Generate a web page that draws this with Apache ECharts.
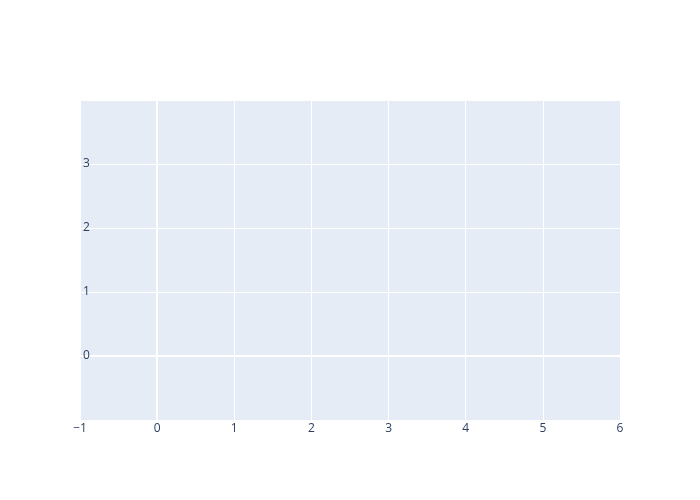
<!DOCTYPE html>
<html>
<head>
<meta charset="utf-8">
<script src="https://cdn.jsdelivr.net/npm/echarts@6/dist/echarts.min.js"></script>
<style>html,body{margin:0;padding:0;background:#fff}#c{width:700px;height:500px}</style>
</head>
<body>
<div id="c"></div>
<script>
// Empty chart: no data points
const seriesX = [];
const seriesY = [];
const xRange = [-1, 6];
const yRange = [-1, 4];
const zeroLines = [0];

const chart = echarts.init(document.getElementById('c'), null, {renderer: 'canvas'});
const fmt = v => String(v).replace('-', '\u2212');
chart.setOption({
  animation: false,
  backgroundColor: '#ffffff',
  textStyle: {fontFamily: '"Open Sans", sans-serif'},
  grid: {left: 80, right: 80, top: 100, bottom: 80, show: true, backgroundColor: '#E5ECF6', borderWidth: 0},
  xAxis: {
    type: 'value', min: xRange[0], max: xRange[1], interval: 1,
    axisLine: {show: false}, axisTick: {show: false},
    axisLabel: {color: '#2a3f5f', fontSize: 12, margin: 3, formatter: fmt, fontFamily: '"Open Sans", sans-serif'},
    splitLine: {show: true, lineStyle: {color: '#ffffff', width: 1}}
  },
  yAxis: {
    type: 'value', min: yRange[0], max: yRange[1], interval: 1, z: 5,
    axisLine: {show: false}, axisTick: {show: false},
    axisLabel: {inside: true, color: '#2a3f5f', fontSize: 12, margin: 3, align: 'left', showMinLabel: false, showMaxLabel: false, formatter: fmt, fontFamily: '"Open Sans", sans-serif'},
    splitLine: {show: true, lineStyle: {color: '#ffffff', width: 1}}
  },
  series: [{
    type: 'scatter',
    z: 1,
    data: seriesX.map((x, i) => [x, seriesY[i]]),
    markLine: {
      silent: true, symbol: 'none', label: {show: false}, z: 1,
      lineStyle: {color: '#ffffff', width: 2, type: 'solid'},
      data: zeroLines.map(v => ({xAxis: v})).concat(zeroLines.map(v => ({yAxis: v})))
    }
  }]
});
</script>
</body>
</html>
